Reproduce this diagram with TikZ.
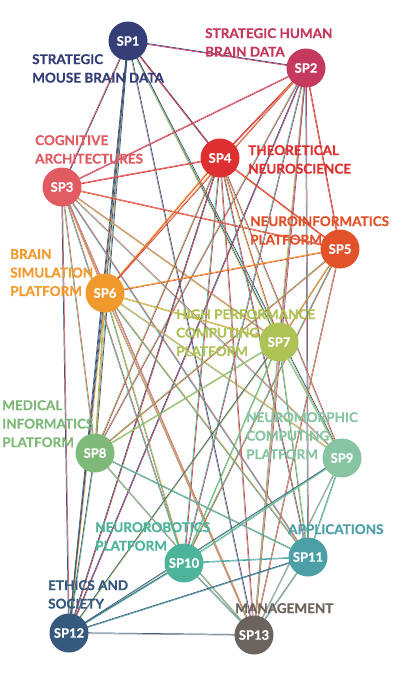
\documentclass[tikz,border=0pt]{standalone}
\usepackage{fontspec}
\setmainfont{Lato}[BoldFeatures={FakeBold=0.6}]
\usetikzlibrary{calc,backgrounds}
\definecolor{c1}{HTML}{363E78}
\definecolor{c2}{HTML}{C6395F}
\definecolor{c3}{HTML}{E05B62}
\definecolor{c4}{HTML}{DE3030}
\definecolor{c5}{HTML}{E1522A}
\definecolor{c6}{HTML}{F0992C}
\definecolor{c7}{HTML}{AEC256}
\definecolor{c8}{HTML}{7EB979}
\definecolor{c9}{HTML}{87C4A1}
\definecolor{c10}{HTML}{4DB39A}
\definecolor{c11}{HTML}{4C9FA6}
\definecolor{c12}{HTML}{365A7E}
\definecolor{c13}{HTML}{6B635D}
\colorlet{lc1}{c1}\colorlet{lc2}{c2}\colorlet{lc3}{c3}\colorlet{lc4}{c4}
\colorlet{lc5}{c5}\colorlet{lc6}{c6}\colorlet{lc7}{c7}\colorlet{lc8}{c8}
\colorlet{lc9}{c9}\colorlet{lc10}{c10}\colorlet{lc11}{c11}\colorlet{lc12}{c12}
\definecolor{lc13}{HTML}{9A9A9A}
\begin{document}
\begin{tikzpicture}[x=1pt,y=-1pt,
  spnode/.style={circle,minimum size=39pt,inner sep=0pt,text=white,
    font=\bfseries\fontsize{13}{14}\selectfont},
  lab/.style={anchor=north west,inner sep=0pt,align=left,
    font=\bfseries\fontsize{13.5}{18.5}\selectfont},
  link/.style={line width=0.7pt}]
\useasboundingbox (0,0) rectangle (400,680);
% nodes
\node[spnode,fill=c1]  (n1)  at (128,41)  {SP1};
\node[spnode,fill=c2]  (n2)  at (306,68)  {SP2};
\node[spnode,fill=c3]  (n3)  at (62,187)  {SP3};
\node[spnode,fill=c4]  (n4)  at (220,158) {SP4};
\node[spnode,fill=c5]  (n5)  at (340,249) {SP5};
\node[spnode,fill=c6]  (n6)  at (105,293) {SP6};
\node[spnode,fill=c7]  (n7)  at (279,342) {SP7};
\node[spnode,fill=c8]  (n8)  at (95,453)  {SP8};
\node[spnode,fill=c9]  (n9)  at (342,458) {SP9};
\node[spnode,fill=c10] (n10) at (184,563) {SP10};
\node[spnode,fill=c11] (n11) at (308,557) {SP11};
\node[spnode,fill=c12] (n12) at (69,633)  {SP12};
\node[spnode,fill=c13] (n13) at (254,635) {SP13};
% labels
\node[lab,text=c1]  (t1)  at (32,54)   {STRATEGIC\\MOUSE BRAIN DATA};
\node[lab,text=c2]  (t2)  at (205,28)  {STRATEGIC HUMAN\\BRAIN DATA};
\node[lab,text=c3]  (t3)  at (35,135)  {COGNITIVE\\ARCHITECTURES};
\node[lab,text=c4]  (t4)  at (248,145) {THEORETICAL\\NEUROSCIENCE};
\node[lab,text=c5]  (t5)  at (250,216) {NEUROINFORMATICS\\PLATFORM};
\node[lab,text=c6]  (t6)  at (10,249)  {BRAIN\\SIMULATION\\PLATFORM};
\node[lab,text=c7]  (t7)  at (176,309) {HIGH PERFORMANCE\\COMPUTING\\PLATFORM};
\node[lab,text=c8]  (t8)  at (2,400)   {MEDICAL\\INFORMATICS\\PLATFORM};
\node[lab,text=c9]  (t9)  at (246,412) {NEUROMORPHIC\\COMPUTING\\PLATFORM};
\node[lab,text=c10] (t10) at (95,522)  {NEUROROBOTICS\\PLATFORM};
\node[lab,text=c11] (t11) at (288,524) {APPLICATIONS};
\node[lab,text=c12] (t12) at (48,580)  {ETHICS AND\\SOCIETY};
\node[lab,text=c13] (t13) at (235,603) {MANAGEMENT};
% links
\begin{pgfonlayer}{background}
\foreach \a/\b in {1/2,1/3,1/4,1/6,1/7,1/8,1/9,1/12,1/13,
  2/3,2/4,2/5,2/6,2/7,2/8,2/10,2/11,2/12,2/13,
  3/4,3/5,3/6,3/7,3/8,3/9,3/10,3/11,3/12,3/13,
  4/5,4/6,4/7,4/8,4/9,4/10,4/11,4/12,4/13,
  5/6,5/7,5/8,5/10,5/13,
  6/7,6/8,6/9,6/10,6/11,6/12,6/13,
  7/8,7/9,7/10,7/11,7/12,7/13,
  8/11,8/12,8/13,
  9/10,9/11,9/12,9/13,
  10/11,10/12,10/13,
  11/12,11/13,
  12/13}{
  \draw[link,draw=lc\a] ($(n\a)!0.4pt!90:(n\b)$) -- ($(n\b)!0.4pt!-90:(n\a)$);
  \draw[link,draw=lc\b] ($(n\a)!0.4pt!-90:(n\b)$) -- ($(n\b)!0.4pt!90:(n\a)$);
}
\end{pgfonlayer}
\end{tikzpicture}
\end{document}
